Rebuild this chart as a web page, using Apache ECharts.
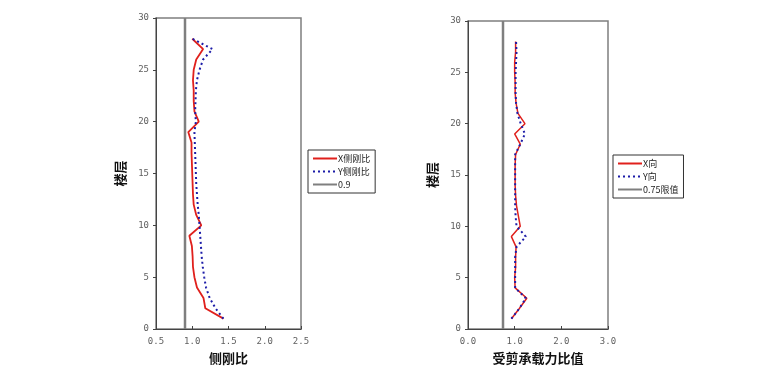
<!DOCTYPE html>
<html><head><meta charset="utf-8">
<script src="https://cdn.jsdelivr.net/npm/echarts@6/dist/echarts.min.js"></script>
<style>html,body{margin:0;padding:0;background:#fff}#c{width:760px;height:375px}</style>
</head><body><div id="c"></div>
<script>
const floors = [1,2,3,4,5,6,7,8,9,10,11,12,13,14,15,16,17,18,19,20,21,22,23,24,25,26,27,28];
const stiffX = [1.43,1.18,1.155,1.065,1.03,1.01,1.005,0.995,0.96,1.125,1.055,1.02,1.01,1.005,1.0,0.995,0.99,0.99,0.945,1.09,1.03,1.02,1.02,1.01,1.02,1.055,1.15,1.0];
const stiffY = [1.43,1.32,1.24,1.19,1.165,1.145,1.13,1.12,1.11,1.1,1.09,1.075,1.065,1.055,1.05,1.045,1.04,1.035,1.03,1.05,1.04,1.045,1.05,1.065,1.1,1.15,1.28,1.0];
const stiffLimit = 0.9;
const shearX = [0.93,1.1,1.26,1.01,1.0,1.02,1.02,1.03,0.93,1.12,1.08,1.04,1.02,1.01,1.01,1.01,1.02,1.12,1.0,1.22,1.07,1.03,1.01,1.01,1.0,1.0,1.02,1.02];
const shearY = [0.93,1.1,1.24,1.01,1.01,1.01,1.01,1.04,1.24,1.04,1.02,1.01,1.01,1.01,1.01,1.01,1.01,1.12,1.22,1.13,1.06,1.03,1.02,1.02,1.02,1.03,1.04,1.03];
const shearLimit = 0.75;
const leftNames = ['X侧刚比','Y侧刚比','0.9'];
const rightNames = ['X向','Y向','0.75限值'];
const xTitleL = '侧刚比', xTitleR = '受剪承载力比值', yTitle = '楼层';

const pairs = (vals) => vals.map((v,i)=>[v, floors[i]]);
const vline = (v) => [[v,0],[v,30]];
const RED = '#e0201c', BLUE = '#1c1ca8', GRAY = '#7f7f7f';
const tickFont = {fontFamily:'DejaVu Sans Mono', fontSize:9, color:'#606060'};
const nameFont = {fontFamily:'Noto Sans CJK SC', fontSize:13, fontWeight:'bold', color:'#111'};

function xAxis(gi, min, max, interval, name){
  return {type:'value', gridIndex:gi, min, max, interval, name, nameLocation:'middle', nameGap:23,
    nameTextStyle:nameFont,
    axisLine:{show:true, lineStyle:{color:'#444', width:1}},
    axisTick:{show:true, inside:true, length:3, lineStyle:{color:'#444'}},
    axisLabel:Object.assign({margin:8, formatter:(v)=>v.toFixed(1)}, tickFont),
    splitLine:{show:false}};
}
function yAxis(gi){
  return {type:'value', gridIndex:gi, min:0, max:30, interval:5, name:yTitle, nameLocation:'middle', nameGap:29, nameRotate:90,
    nameTextStyle:nameFont,
    axisLine:{show:true, lineStyle:{color:'#444', width:1}},
    axisTick:{show:true, inside:false, length:3, lineStyle:{color:'#444'}},
    axisLabel:Object.assign({margin:7}, tickFont),
    splitLine:{show:false}};
}
function line(name, data, gi, color, type, width){
  return {type:'line', name, data, xAxisIndex:gi, yAxisIndex:gi, symbol:'none', silent:true,
    lineStyle:{color, type, width}, itemStyle:{color}, animation:false};
}
const legendBase = {orient:'vertical', itemWidth:24, itemHeight:8, itemGap:4, padding:[4,5,4,4],
  borderColor:'#333', borderWidth:1,
  itemStyle:{color:'transparent', borderColor:'transparent', borderWidth:0, opacity:0},
  textStyle:{fontFamily:'Noto Sans CJK SC', fontSize:9, color:'#222', padding:[0,0,0,-4]}};

const option = {
  backgroundColor:'#fff', animation:false,
  grid:[
    {left:156, top:18, width:145, height:311, show:true, borderColor:GRAY, borderWidth:1.5, backgroundColor:'transparent'},
    {left:468, top:21, width:140, height:308, show:true, borderColor:GRAY, borderWidth:1.5, backgroundColor:'transparent'}
  ],
  xAxis:[xAxis(0,0.5,2.5,0.5,xTitleL), xAxis(1,0,3,1,xTitleR)],
  yAxis:[yAxis(0), yAxis(1)],
  legend:[
    Object.assign({}, legendBase, {left:308, top:150, data:leftNames}),
    Object.assign({}, legendBase, {left:613, top:155, data:rightNames})
  ],
  series:[
    line(leftNames[2], vline(stiffLimit), 0, GRAY, 'solid', 2.5),
    line(leftNames[0], pairs(stiffX), 0, RED, 'solid', 1.8),
    line(leftNames[1], pairs(stiffY), 0, BLUE, [2,3], 2),
    line(rightNames[2], vline(shearLimit), 1, GRAY, 'solid', 2.5),
    line(rightNames[0], pairs(shearX), 1, RED, 'solid', 1.5),
    line(rightNames[1], pairs(shearY), 1, BLUE, [2,3], 2)
  ]
};
echarts.init(document.getElementById('c')).setOption(option);
</script></body></html>
